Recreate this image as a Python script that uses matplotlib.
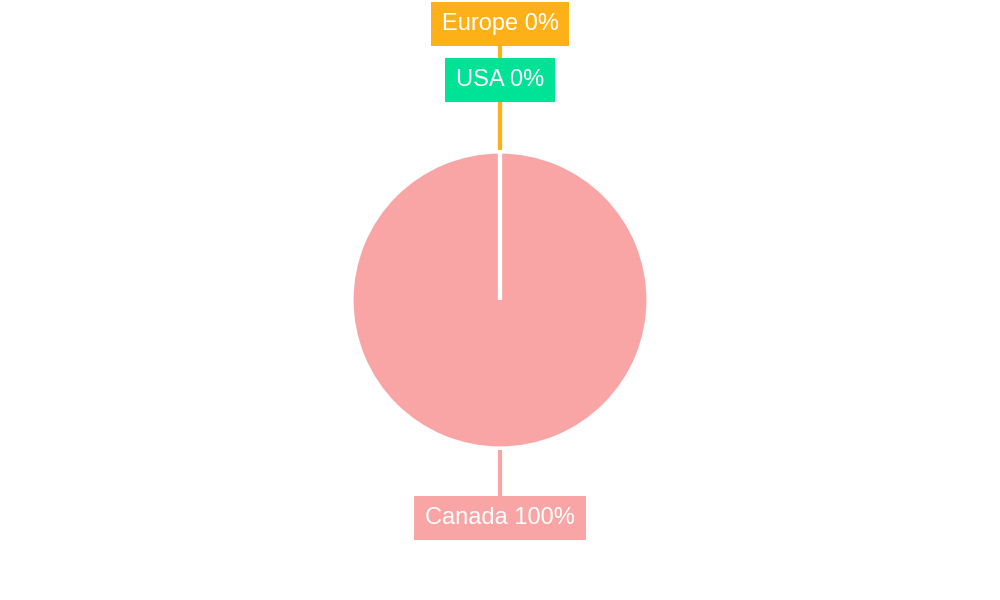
import numpy as np
import matplotlib
matplotlib.use("Agg")
import matplotlib.pyplot as plt

# datos
regiones = ["Canada", "USA", "Europe"]
valores = [100, 0, 0]
colores = ["#F9A5A6", "#00E396", "#FEB019"]
distancias = [1.483, 1.497, 1.878]  # distancia de la etiqueta al centro (en radios)

plt.rcParams['font.family'] = ['Liberation Sans', 'DejaVu Sans']

fig = plt.figure(figsize=(10, 6), dpi=100)
ax = fig.add_axes([0, 0, 1, 1])
R = 147.0

wedges, _ = ax.pie(valores, colors=colores, startangle=90, counterclock=False,
                   radius=1.01, wedgeprops=dict(edgecolor='white', linewidth=3))
ax.set_xlim(-500 / R, 500 / R)
ax.set_ylim(-300 / R, 300 / R)
ax.set_aspect('equal')
ax.axis('off')

total = sum(valores)
for i, w in enumerate(wedges):
    ang = np.deg2rad((w.theta1 + w.theta2) / 2)
    if valores[i] == 0:
        ang = np.deg2rad(w.theta1)
    ux, uy = np.cos(ang), np.sin(ang)
    d = distancias[i]
    # lineas guia: la ultima serie queda encima
    ax.plot([1.02 * ux, d * ux], [1.02 * uy, d * uy], color=colores[i], lw=3,
            zorder=2 + i * 0.1, solid_capstyle='butt')
    pct = f"{valores[i] / total * 100:.0f}%"
    ax.text(d * ux, d * uy, f"{regiones[i]} {pct}", ha='center', va='center',
            color='white', fontsize=17, zorder=4,
            bbox=dict(boxstyle='square,pad=0.45', fc=colores[i], ec='none'))

fig.savefig("out.png", dpi=100, facecolor='white')
